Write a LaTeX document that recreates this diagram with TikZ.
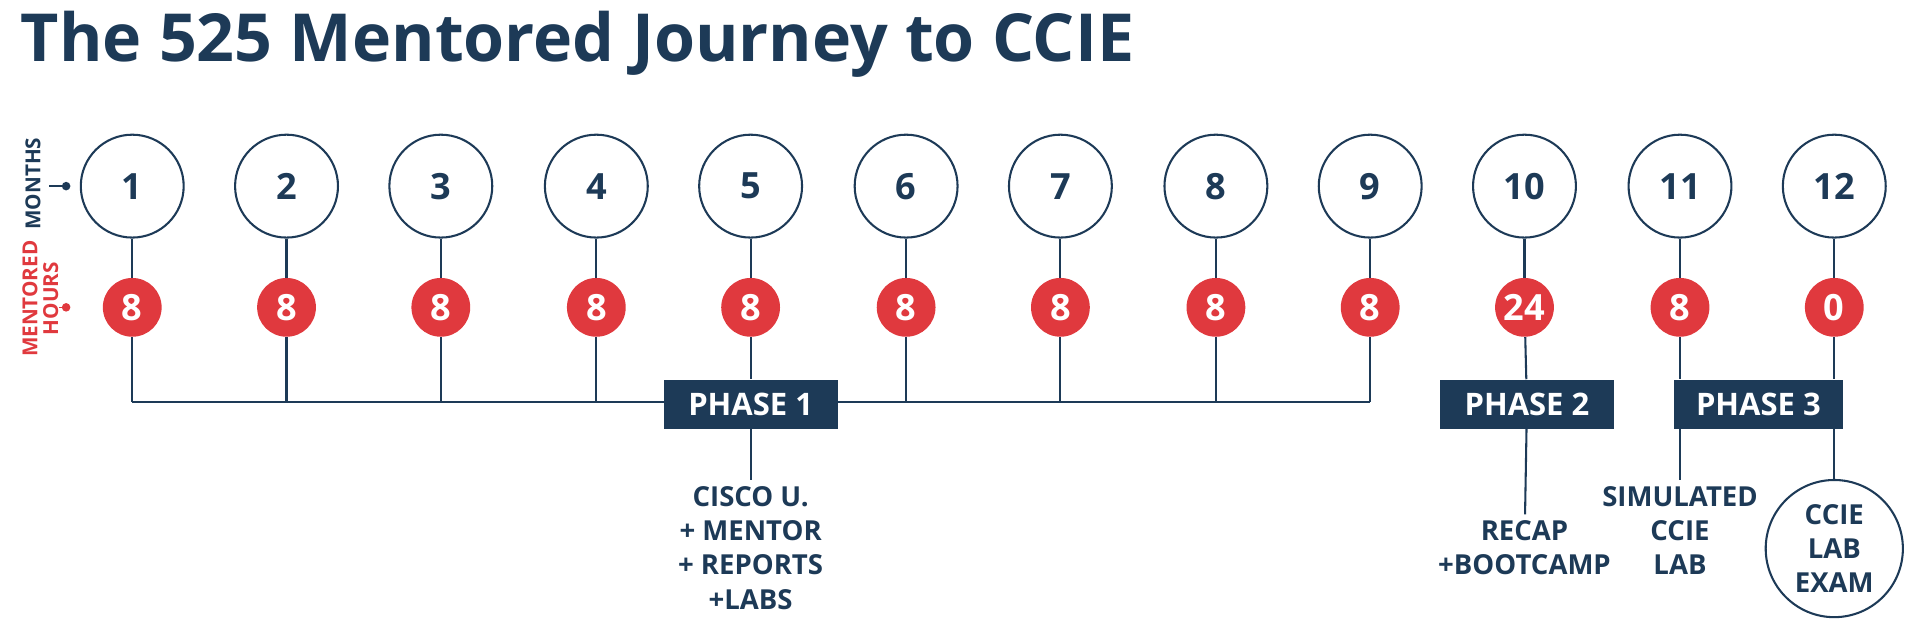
\documentclass[tikz,border=0pt]{standalone}
\usepackage{fontspec}
\setmainfont{Open Sans}
\usetikzlibrary{positioning}
\definecolor{navy}{HTML}{1D3A57}
\definecolor{hred}{HTML}{E0393E}
\tikzset{
  month/.style={circle, draw=navy, line width=1.2pt, fill=white, minimum size=2.1cm, text=navy, font=\fontsize{21}{24}\selectfont\bfseries},
  hours/.style={circle, fill=hred, minimum size=1.2cm, inner sep=0pt, text=white, font=\fontsize{21}{24}\selectfont\bfseries},
  phase/.style={fill=navy, text=white, minimum width=3.55cm, minimum height=1cm, font=\fontsize{18}{21}\selectfont\bfseries},
  note/.style={text=navy, align=center, font=\fontsize{16}{20}\selectfont\bfseries},
  link/.style={navy, line width=1.2pt}
}
\begin{document}
\begin{tikzpicture}[x=0.025cm, y=-0.025cm]
  \useasboundingbox (0,0) rectangle (1568,514);

  % Title
  \node (title) [anchor=west, text=navy, font=\fontsize{38.5}{44}\selectfont\bfseries] at (12,36) {The 525 Mentored Journey to CCIE};

  % Months and hours
  \foreach \i/\x/\h in {1/108/8, 2/234/8, 3/360/8, 4/487/8, 5/613/8, 6/740/8, 7/866/8, 8/993/8, 9/1119/8, 10/1245/24, 11/1372/8, 12/1498/0} {
    \node (m\i) [month] at (\x,152) {\i};
    \node (h\i) [hours] at (\x,251) {\h};
    \draw [link] (m\i) -- (h\i);
  }

  % Side labels
  \node (lmonths) [rotate=90, text=navy, font=\fontsize{12}{12}\selectfont\bfseries] at (27,150) {MONTHS};
  \node (lhours) [rotate=90, text=hred, align=center, font=\fontsize{12}{12}\selectfont\bfseries] at (33,244) {MENTORED\\HOURS};
  \coordinate (dm) at (54,152);
  \coordinate (dh) at (54,251);
  \fill [navy] (dm) circle (3.5);
  \fill [hred] (dh) circle (3.5);
  \draw [navy, line width=0.8pt] (dm) -- ++(-14,0);
  \draw [hred, line width=0.8pt] (dh) -- ++(-6,0);

  % Phases
  \coordinate (bl) at (108,328);
  \coordinate (br) at (1119,328);
  \draw [link] (bl) -- (br);
  \foreach \i in {1,2,3,4,6,7,8,9} \draw [link] (h\i) -- (h\i |- bl);
  \node (p1) [phase] at (613,330) {PHASE 1};
  \draw [link] (h5) -- (p1);
  \node (p2) [phase] at (1247,330) {PHASE 2};
  \draw [link] (h10) -- (p2);
  \node (p3) [phase, minimum width=3.45cm] at (1436,330) {PHASE 3};
  \draw [link] (h11) -- (h11 |- p3.north);
  \draw [link] (h12) -- (h12 |- p3.north);

  % Outcomes
  \node (n1) [note, anchor=north] at (613,392) {CISCO U.\\+ MENTOR\\+ REPORTS\\+LABS};
  \draw [link] (p1) -- (n1);
  \node (n2) [note, anchor=north] at (1245,420) {RECAP\\+BOOTCAMP};
  \draw [link] (p2) -- (n2);
  \node (n3) [note, anchor=north] at (1372,392) {SIMULATED\\CCIE\\LAB};
  \draw [link] (h11 |- p3.south) -- (n3);
  \node (exam) [month, minimum size=2.8cm, font=\fontsize{16}{20}\selectfont\bfseries, align=center] at (1498,448) {CCIE\\LAB\\EXAM};
  \draw [link] (h12 |- p3.south) -- (exam);
\end{tikzpicture}
\end{document}
